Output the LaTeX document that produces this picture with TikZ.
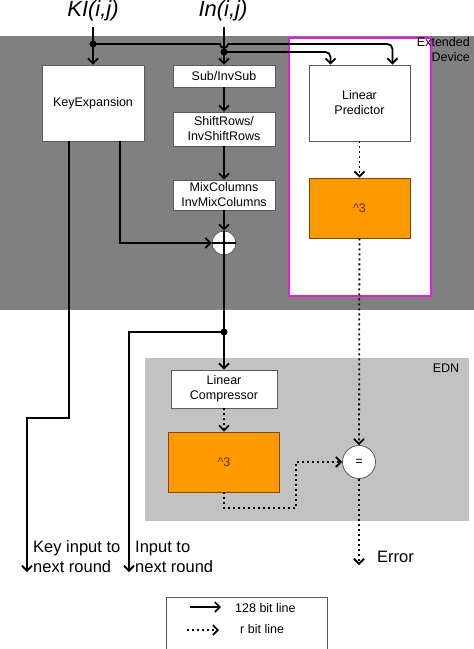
\documentclass[tikz,border=0pt]{standalone}
\usepackage{fontspec}
\setmainfont{Liberation Sans}
\usetikzlibrary{arrows.meta}
\definecolor{dgray}{HTML}{808080}
\definecolor{lgray}{HTML}{C2C2C2}
\definecolor{orng}{HTML}{FF9900}
\definecolor{orngb}{HTML}{7A4A00}
\definecolor{brn}{HTML}{6A2A00}
\definecolor{mag}{HTML}{E21BE2}
\definecolor{bord}{HTML}{5A5A5A}
\begin{document}
\begin{tikzpicture}[x=1pt,y=-1pt,
  blk/.style={draw=bord,line width=0.9pt,fill=white,inner sep=0pt,align=center,font=\fontsize{12.5}{15}\selectfont},
  hot/.style={draw=orngb,line width=0.9pt,fill=orng,inner sep=0pt,font=\fontsize{12.5}{15}\selectfont,text=brn},
  wire/.style={line width=1.8pt},
  arr/.style={wire,-{Straight Barb[length=5pt,width=10pt]}},
  dots/.style={line width=1.8pt,dash pattern=on 1.8pt off 3.2pt},
  darr/.style={dots,-{Straight Barb[length=5pt,width=10pt]}},
  jdot/.style={circle,fill=black,inner sep=0pt,minimum size=7pt},
  lbl/.style={inner sep=0pt,align=left,font=\fontsize{16.5}{20}\selectfont},
  sml/.style={inner sep=0pt,font=\fontsize{12.5}{15}\selectfont}
]
\useasboundingbox (0,0) rectangle (474,649);
% backgrounds
\fill[dgray] (0,36) rectangle (474,310);
\fill[white] (289,38) rectangle (431,296);
\draw[mag,line width=1.6pt] (289,38) rectangle (431,296);
\fill[lgray] (145,358) rectangle (469,521);
\node[sml,align=right,anchor=north east] (ext) at (470,37) {Extended\\Device};
\node[sml] (edn) at (446,368) {EDN};
% top labels
\node[inner sep=0pt,font=\fontsize{22}{24}\selectfont\itshape] (ki) at (93,11) {KI(i,j)};
\node[inner sep=0pt,font=\fontsize{22}{24}\selectfont\itshape] (in) at (223,11) {In(i,j)};
% blocks
\node[blk,minimum width=102pt,minimum height=76pt] (keyexp) at (93,103) {KeyExpansion};
\node[blk,minimum width=102pt,minimum height=22pt] (sub) at (224,76) {Sub/InvSub};
\node[blk,minimum width=102pt,minimum height=34pt] (shift) at (224,129) {ShiftRows/\\InvShiftRows};
\node[blk,minimum width=102pt,minimum height=30pt] (mix) at (224,195) {MixColumns\\InvMixColumns};
\node[circle,draw=bord,fill=white,line width=0.8pt,minimum size=24pt,inner sep=0pt] (xor) at (224,243) {};
\draw[line width=1.2pt] (xor.north) -- (xor.south) (xor.west) -- (xor.east);
\node[blk,minimum width=101pt,minimum height=76pt] (lp) at (359.5,103) {Linear\\Predictor};
\node[hot,minimum width=101pt,minimum height=60pt] (or1) at (359.5,208) {\textasciicircum3};
\node[blk,minimum width=106pt,minimum height=38pt] (lc) at (224,389) {Linear\\Compressor};
\node[hot,minimum width=111pt,minimum height=60pt] (or2) at (224,462) {\textasciicircum3};
\node[circle,draw=bord,fill=white,line width=0.8pt,minimum size=33pt,inner sep=0pt,font=\fontsize{12.5}{15}\selectfont] (eq) at (359,462) {=};
% coordinates
\coordinate (kitop) at (93,27);
\coordinate (intop) at (224,27);
\node[jdot] (kdot) at (93,44) {};
\node[jdot] (indot) at (224,52) {};
\node[jdot] (odot) at (224,332) {};
\coordinate (kout) at (27,572);
\coordinate (iout) at (129,572);
\coordinate (eout) at (359,565);
% key and input wires
\draw[arr] (kitop) -- (keyexp.north);
\draw[arr] (intop) -- (sub.north);
\draw[wire] (kdot.center) -- (220,44) arc[start angle=180,end angle=0,radius=4];
\draw[arr,rounded corners=5pt] (228,44) -| ([xshift=-18pt]lp.north east);
\draw[arr,rounded corners=5pt] (indot.center) -| ([xshift=-29pt]lp.north);
% round chain
\draw[arr] (sub) -- (shift);
\draw[arr] (shift) -- (mix);
\draw[arr] (mix) -- (xor);
\draw[arr] ([xshift=27pt]keyexp.south) |- (xor.west);
\draw[arr] ([xshift=-24pt]keyexp.south) -- (69,418) -- (27,418) -- (kout);
\draw[arr] (xor.south) -- (lc.north);
\draw[arr] (odot.center) -| (iout);
% r bit lines
\draw[darr] (lp) -- (or1);
\draw[darr] (or1) -- (eq);
\draw[darr] (lc) -- (or2);
\draw[darr] (or2.south) -- (224,508) -| (296,462) -- (eq.west);
\draw[darr] (eq) -- (eout);
% outputs labels
\node[lbl,anchor=west] (klbl) at (33,557) {Key input to\\next round};
\node[lbl,anchor=west] (ilbl) at (135,557) {Input to\\next round};
\node[lbl,anchor=west] (err) at (377,557) {Error};
% legend
\draw[bord,line width=0.9pt] (166,652) -- (166,597) -- (327,597) -- (327,652);
\coordinate (l1a) at (190,607);
\coordinate (l1b) at (221,607);
\coordinate (l2a) at (187,630);
\coordinate (l2b) at (219,630);
\draw[arr,line width=1.6pt] (l1a) -- (l1b);
\draw[darr,line width=1.6pt] (l2a) -- (l2b);
\node[sml,anchor=west] (leg1) at (235,608) {128 bit line};
\node[sml,anchor=west] (leg2) at (240,629) {r bit line};
\end{tikzpicture}
\end{document}
